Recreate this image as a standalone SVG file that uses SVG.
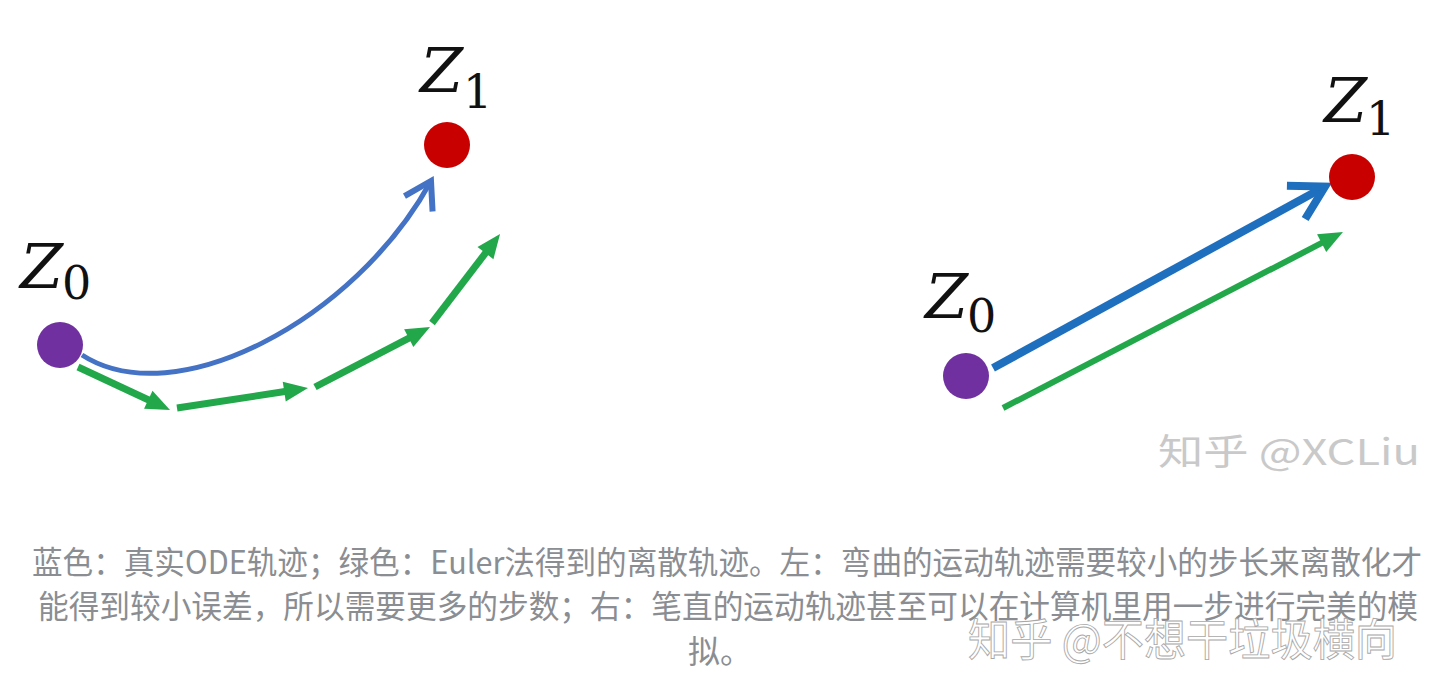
<svg xmlns="http://www.w3.org/2000/svg" width="1440" height="690" viewBox="0 0 1440 690">
  <style>
    .zl { font-family: "DejaVu Serif", "Liberation Serif", serif; font-style: italic; font-size: 62px; fill: #111; }
    .zs { font-family: "DejaVu Serif", "Liberation Serif", serif; font-size: 46px; fill: #111; }
    .start { fill: #7030a0; }
    .end { fill: #c80000; }
    .cap { font-family: "Noto Sans CJK SC", "Noto Sans", sans-serif; font-size: 32px; fill: #8a8d92; }
    .green { stroke: #22a84a; fill: none; stroke-linecap: butt; }
    .blue-l { stroke: #4472c4; fill: none; stroke-width: 5; }
    .blue-r { stroke: #1f6fbf; fill: none; stroke-width: 8; }
    .wm1 { font-family: "Noto Sans CJK SC", "Noto Sans", sans-serif; font-size: 36px; fill: #c9c9c9; }
    .wm2 { font-family: "Noto Sans CJK SC", "Noto Sans", sans-serif; font-size: 44px; fill: #ffffff; stroke: #a8a8a8; stroke-width: 0.9; }
  </style>
  <defs>
    <marker id="tri" markerUnits="userSpaceOnUse" viewBox="0 0 24 20" markerWidth="24" markerHeight="20" refX="4" refY="10" orient="auto" overflow="visible">
      <path d="M0,0 L24,10 L0,20 Z" fill="#22a84a"/>
    </marker>
    <marker id="chev-l" markerUnits="userSpaceOnUse" viewBox="-40 -30 50 60" markerWidth="50" markerHeight="60" refX="0" refY="0" orient="auto" overflow="visible">
      <path d="M-26,-16 L0,0 L-26,16" fill="none" stroke="#4472c4" stroke-width="6" stroke-linejoin="miter"/>
    </marker>
    <marker id="chev-r" markerUnits="userSpaceOnUse" viewBox="-40 -30 50 60" markerWidth="50" markerHeight="60" refX="0" refY="0" orient="auto" overflow="visible">
      <path d="M-33,-19 L0,0 L-33,19" fill="none" stroke="#1f6fbf" stroke-width="8" stroke-linejoin="miter"/>
    </marker>
  </defs>
  <rect x="0" y="0" width="1440" height="690" fill="#ffffff"/>

  <g id="connectors">
    <path class="blue-l" d="M82,355 C175,415 355,320 431,181" marker-end="url(#chev-l)"/>
    <line class="green" stroke-width="7" x1="78" y1="367" x2="151.9" y2="401.5" marker-end="url(#tri)"/>
    <line class="green" stroke-width="7" x1="177" y1="408" x2="288.2" y2="391" marker-end="url(#tri)"/>
    <line class="green" stroke-width="7" x1="315" y1="387" x2="412.3" y2="336.3" marker-end="url(#tri)"/>
    <line class="green" stroke-width="7" x1="432" y1="323" x2="487.9" y2="249.9" marker-end="url(#tri)"/>
    <line class="blue-r" x1="993" y1="368" x2="1325" y2="186.5" marker-end="url(#chev-r)"/>
    <line class="green" stroke-width="6" x1="1003" y1="408" x2="1325.2" y2="241.2" marker-end="url(#tri)"/>
  </g>

  <g id="z0-left">
    <circle class="start" cx="60" cy="345" r="23"/>
    <text class="zl" x="20" y="288">Z</text>
    <text class="zs" x="62" y="299">0</text>
  </g>
  <g id="z1-left">
    <circle class="end" cx="447" cy="145" r="23"/>
    <text class="zl" x="420" y="92">Z</text>
    <text class="zs" x="463" y="108">1</text>
  </g>
  <g id="z0-right">
    <circle class="start" cx="966" cy="376" r="23"/>
    <text class="zl" x="925" y="318">Z</text>
    <text class="zs" x="967" y="332">0</text>
  </g>
  <g id="z1-right">
    <circle class="end" cx="1352" cy="177" r="23"/>
    <text class="zl" x="1324" y="122">Z</text>
    <text class="zs" x="1366" y="135">1</text>
  </g>

  <g id="watermark-figure">
    <text class="wm1" x="1158" y="465" textLength="262" lengthAdjust="spacingAndGlyphs">知乎 @XCLiu</text>
  </g>

  <g id="caption">
    <text class="cap" x="32" y="574" textLength="1390" lengthAdjust="spacingAndGlyphs">蓝色：真实ODE轨迹；绿色：Euler法得到的离散轨迹。左：弯曲的运动轨迹需要较小的步长来离散化才</text>
    <text class="cap" x="38" y="618" textLength="1380" lengthAdjust="spacingAndGlyphs">能得到较小误差，所以需要更多的步数；右：笔直的运动轨迹甚至可以在计算机里用一步进行完美的模</text>
    <text class="cap" x="720" y="663" text-anchor="middle">拟。</text>
  </g>

  <g id="watermark-page">
    <text class="wm2" x="968" y="656" textLength="429" lengthAdjust="spacingAndGlyphs">知乎 @不想干垃圾横向</text>
  </g>
</svg>
